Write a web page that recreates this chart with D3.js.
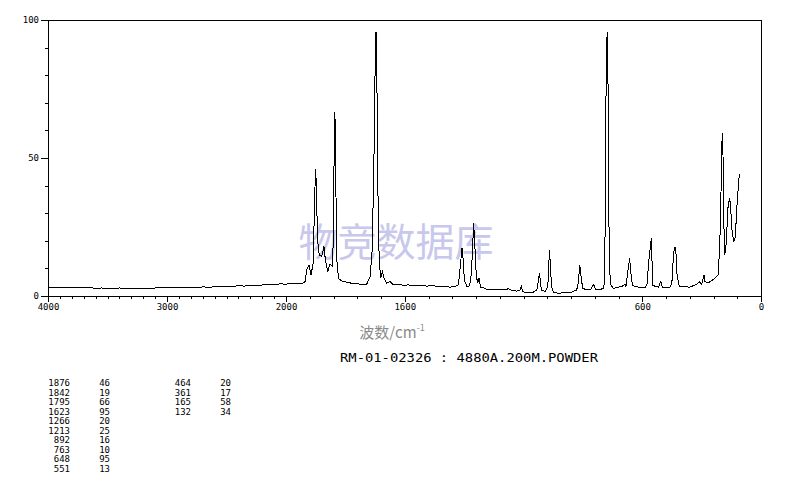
<!DOCTYPE html>
<html><head><meta charset="utf-8">
<script src="https://cdn.jsdelivr.net/npm/d3@7"></script>
<style>
html,body{margin:0;padding:0;background:#fff;}
svg{display:block;}
</style></head>
<body>
<svg id="chart" width="794" height="482"></svg>
<script>
// ---- data ----
const wavenumbers = [4000,3950,3900,3850,3800,3750,3700,3650,3600,3550,3500,3450,3400,3350,3300,3250,3200,3150,3100,3050,
3000,2950,2900,2850,2800,2750,2700,2650,2600,2550,2500,2450,2400,2350,2300,2250,2200,2150,2100,2050,2000,
1975,1950,1930,1920,1913,1903,1895,1885,1880,1875,1872,1867,1860,1850,1840,1834,1824,1815,1809,1803,1797,1794,1790,1786,1779,1765,1745,1717,1688,1660,
1646,1638,1634,1629,1624,1621,1618,1615,1611,1607,1601,1594,1587,1576,1562,1548,1530,1506,1485,1464,1440,1407,1380,1352,1330,1309,1290,
1274,1265,1259,1255,1249,1239,1230,1222,1215,1210,1206,1200,1194,1187,1181,1168,1155,1135,1113,1090,1071,1065,1050,1029,1015,1009,1003,
985,960,944,937,933,928,925,909,898,894,891,887,882,874,846,825,804,776,770,763,757,751,734,717,710,704,697,678,
664,660,657,653,649,647,644,641,638,634,622,601,587,573,569,564,553,550,545,540,517,488,480,472,462,459,455,432,422,415,
383,376,372,369,362,358,353,344,327,299,271,260,250,240,236,222,201,180,175,170,166,163,160,157,153,148,143,138,132,128,124,115,108,102,96,91];
const intensity = [3.3,3.0,3.2,3.1,3.0,3.2,2.9,3.0,2.8,2.9,2.7,2.8,2.9,2.7,2.6,2.8,2.9,2.7,2.9,3.0,
3.0,3.1,3.0,3.2,3.1,3.0,3.3,3.2,3.3,3.3,3.4,3.5,3.7,3.6,3.8,3.7,4.0,4.2,4.1,4.4,4.3,
4.5,4.4,4.7,5.2,9.4,11.2,7.6,12.0,34.8,46.0,38.4,20.3,14.9,14.4,17.9,12.8,8.8,11.6,11.2,10.7,52.9,66.5,39.6,13.0,6.4,5.4,5.0,4.5,4.3,4.3,
7.0,15.5,30.0,53.5,88.0,95.8,87.0,53.5,25.0,12.0,6.5,8.8,6.5,4.7,5.2,4.0,4.2,3.9,4.0,3.8,3.9,3.6,3.7,3.4,3.5,3.2,3.4,
4.0,11.8,17.3,14.3,5.8,3.6,3.4,5.8,15.5,26.6,20.3,9.4,4.6,6.4,3.2,2.9,2.4,2.5,2.2,2.4,2.2,2.7,2.0,1.8,2.2,3.4,1.6,
1.2,1.3,2.2,5.8,8.2,4.6,2.2,1.6,3.4,9.4,16.7,11.8,3.4,1.2,1.0,1.3,1.2,2.2,4.6,11.2,6.8,2.8,2.2,2.2,3.6,4.2,2.4,2.4,
2.7,4.3,17.9,69.8,93.0,95.8,75.8,32.4,12.0,4.3,2.7,3.2,3.4,4.3,3.2,6.8,13.6,10.6,5.6,3.8,3.2,3.0,4.3,12.9,20.9,12.9,3.8,3.2,5.2,3.2,
3.2,4.3,8.2,15.5,17.9,15.5,7.0,3.6,3.4,3.2,4.3,5.2,4.3,7.6,5.2,4.8,6.0,7.6,16.7,27.5,52.0,59.0,51.0,28.7,14.9,17.3,25.1,33.6,35.0,33.0,25.1,19.7,21.5,31.8,39.0,44.2];

const xTickValues = [4000,3000,2000,1500,500,0];
const xTickLabels = ["4000","3000","2000","1600","600","0"];
const yTickValues = [0,50,100];
const yTickLabels = ["0","50","100"];

const peakWn  = [1876,1842,1795,1623,1266,1213,892,763,648,551,464,361,165,132];
const peakInt = [46,19,66,95,20,25,16,10,95,13,20,17,58,34];

const titleText = "RM-01-02326 : 4880A.200M.POWDER";
const watermark = "物竞数据库";

// ---- layout ----
const svg = d3.select("#chart");
svg.append("rect").attr("width",794).attr("height",482).attr("fill","#fff");
const L = 48, R = 761, T = 20, B = 296;
const x = d3.scaleLinear().domain([4000,2000,0]).range([L,286,R]);
const y = d3.scaleLinear().domain([0,100]).range([B,T]);
const tickFont = "'DejaVu Sans Mono', 'Liberation Mono', monospace";

// watermark
svg.append("text").attr("x",396).attr("y",239)
  .attr("text-anchor","middle").attr("dominant-baseline","central")
  .attr("font-family","'Noto Sans CJK SC', sans-serif").attr("font-size",39)
  .attr("textLength",195).attr("lengthAdjust","spacingAndGlyphs")
  .attr("fill","#c8c8ec").text(watermark);

// frame (top & right)
svg.append("path").attr("d",`M${L},${T}H${R}V${B}`).attr("fill","none")
  .attr("stroke","#000").attr("shape-rendering","crispEdges");

// minor ticks
const xMinor = d3.range(4000,-1,-100);
svg.append("g").attr("transform",`translate(0,${B})`)
  .call(d3.axisBottom(x).tickValues(xMinor).tickSize(3).tickSizeOuter(0).tickFormat(""))
  .call(g=>g.select(".domain").remove())
  .call(g=>g.selectAll("line").attr("shape-rendering","crispEdges"));
const yMinor = d3.range(0,101,10);
svg.append("g").attr("transform",`translate(${L},0)`)
  .call(d3.axisLeft(y).tickValues(yMinor).tickSize(3).tickSizeOuter(0).tickFormat(""))
  .call(g=>g.select(".domain").remove())
  .call(g=>g.selectAll("line").attr("shape-rendering","crispEdges"));

// major axes
const xAxis = svg.append("g").attr("transform",`translate(0,${B})`)
  .call(d3.axisBottom(x).tickValues(xTickValues).tickSize(6).tickSizeOuter(0)
    .tickFormat((d,i)=>xTickLabels[i]));
const yAxis = svg.append("g").attr("transform",`translate(${L},0)`)
  .call(d3.axisLeft(y).tickValues(yTickValues).tickSize(7).tickSizeOuter(0)
    .tickFormat((d,i)=>yTickLabels[i]));
[xAxis,yAxis].forEach(g=>{
  g.selectAll("path,line").attr("stroke","#000").attr("shape-rendering","crispEdges");
  g.selectAll("text").attr("font-family",tickFont).attr("font-size",9).attr("fill","#000");
});
xAxis.selectAll("text").attr("dy","0.71em").attr("y",8);
yAxis.selectAll("text").attr("x",-9);

// spectrum
const pts = wavenumbers.map((w,i)=>[w,intensity[i]]);
const line = d3.line().x(d=>x(d[0])).y(d=>y(d[1]));
svg.append("path").datum(pts).attr("d",line).attr("fill","none")
  .attr("stroke","#000").attr("stroke-width",1).attr("shape-rendering","crispEdges");

// x-axis title
const xt = svg.append("text").attr("x",392).attr("y",338).attr("text-anchor","middle")
  .attr("font-family","'Noto Sans CJK SC', sans-serif").attr("font-size",15).attr("fill","#8a8a8a");
xt.append("tspan").text("波数/cm");
xt.append("tspan").attr("font-size",9).attr("dy",-7).text("-1");

// title
svg.append("text").attr("x",340).attr("y",362).attr("textLength",258).attr("lengthAdjust","spacingAndGlyphs")
  .attr("font-family",tickFont).attr("font-size",13).attr("fill","#000").text(titleText);

// peak table
const rows = 10;
const tbl = svg.append("g").attr("font-family",tickFont).attr("font-size",9).attr("fill","#000").attr("text-anchor","end");
peakWn.forEach((w,i)=>{
  const col = Math.floor(i/rows), r = i%rows;
  const yy = 386 + r*9.56;
  tbl.append("text").attr("x",col===0?70:191).attr("y",yy).text(w);
  tbl.append("text").attr("x",col===0?110:231).attr("y",yy).text(peakInt[i]);
});
</script>
</body></html>
